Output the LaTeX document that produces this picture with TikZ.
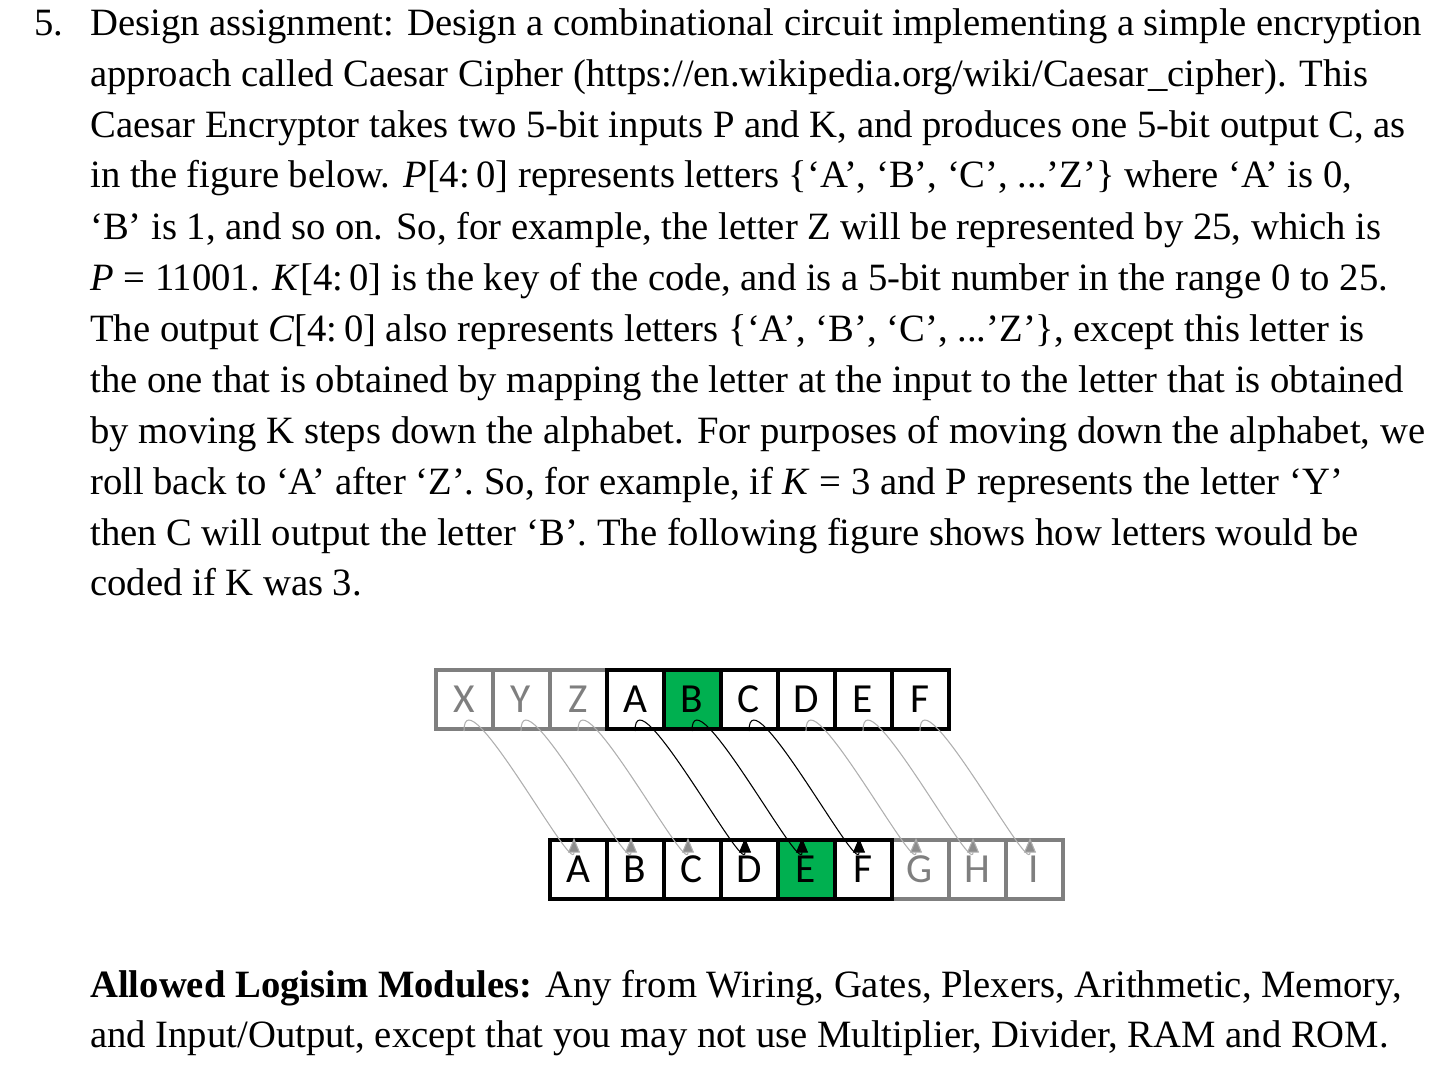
\documentclass[tikz,border=0pt]{standalone}
\usepackage{fontspec}
\setmainfont{Liberation Serif}
\newfontfamily\cellfont{Carlito}
\usetikzlibrary{arrows.meta}
\definecolor{cgreen}{HTML}{00B050}
\definecolor{cgray}{HTML}{7F7F7F}
\definecolor{agray}{HTML}{8C8C8C}
\begin{document}
\begin{tikzpicture}[x=0.75pt,y=-0.75pt,
  txt/.style={anchor=base west,inner sep=0pt,font=\fontsize{29}{34}\selectfont},
  cell/.style={minimum width=42.75pt,minimum height=44.25pt,inner sep=0pt,line width=3pt,font=\cellfont\fontsize{31}{31}\selectfont},
  gcell/.style={cell,draw=cgray,text=cgray},
  bcell/.style={cell,draw=black},
  garr/.style={draw=agray!70,line width=0.8pt,-{Triangle[length=11pt,width=9pt,fill=agray]}},
  barr/.style={draw=black,line width=0.8pt,-{Triangle[length=11pt,width=9pt]}}]
\useasboundingbox (0,0) rectangle (1432,1070);
\node[txt] (n) at (34,36) {5.};
\node[txt] (l1) at (90,36) {Design assignment: Design a combinational circuit implementing a simple encryption};
\node[txt] (l2) at (90,87) {approach called Caesar Cipher (https://en.wikipedia.org/wiki/Caesar\_cipher). This};
\node[txt] (l3) at (90,138) {Caesar Encryptor takes two 5-bit inputs P and K, and produces one 5-bit output C, as};
\node[txt] (l4) at (90,188) {in the figure below. \textit{P}[4:\,0] represents letters \{‘A’, ‘B’, ‘C’, ...’Z’\} where ‘A’ is 0,};
\node[txt] (l5) at (90,239) {‘B’ is 1, and so on. So, for example, the letter Z will be represented by 25, which is};
\node[txt] (l6) at (90,290) {\textit{P} = 11001. \textit{K}[4:\,0] is the key of the code, and is a 5-bit number in the range 0 to 25.};
\node[txt] (l7) at (90,341) {The output \textit{C}[4:\,0] also represents letters \{‘A’, ‘B’, ‘C’, ...’Z’\}, except this letter is};
\node[txt] (l8) at (90,392) {the one that is obtained by mapping the letter at the input to the letter that is obtained};
\node[txt] (l9) at (90,443) {by moving K steps down the alphabet. For purposes of moving down the alphabet, we};
\node[txt] (l10) at (90,494) {roll back to ‘A’ after ‘Z’. So, for example, if \textit{K} = 3 and P represents the letter ‘Y’};
\node[txt] (l11) at (90,545) {then C will output the letter ‘B’. The following figure shows how letters would be};
\node[txt] (l12) at (90,595) {coded if K was 3.};
\node[txt] (l13) at (90,997) {\textbf{Allowed Logisim Modules:} Any from Wiring, Gates, Plexers, Arithmetic, Memory,};
\node[txt] (l14) at (90,1047) {and Input/Output, except that you may not use Multiplier, Divider, RAM and ROM.};
% top row
\foreach \l [count=\i from 0] in {X,Y,Z} \node[gcell] (t\i) at (464+57*\i,699.5) {\l};
\foreach \l [count=\i from 3] in {A,B,C,D,E,F} \node[bcell] (t\i) at (464+57*\i,699.5) {\l};
\node[bcell,fill=cgreen] at (t4) {B};
% bottom row
\foreach \l [count=\i from 6] in {G,H,I} \node[gcell] (b\i) at (578+57*\i,869.5) {\l};
\foreach \l [count=\i from 0] in {A,B,C,D,E,F} \node[bcell] (b\i) at (578+57*\i,869.5) {\l};
\node[bcell,fill=cgreen] at (b4) {E};
% arrows
\foreach \i in {0,1,2,6,7,8} \draw[garr] (t\i.south) .. controls ++(0,-60) and ++(0,40) .. ([xshift=-3]b\i.north);
\foreach \i in {3,4,5} \draw[barr] (t\i.south) .. controls ++(0,-60) and ++(0,40) .. ([xshift=-3]b\i.north);
\end{tikzpicture}
\end{document}
